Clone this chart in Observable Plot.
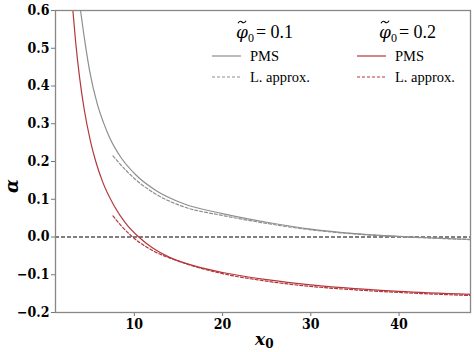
<!DOCTYPE html>
<html><head><meta charset="utf-8">
<script src="https://cdn.jsdelivr.net/npm/d3@7"></script>
<script src="https://cdn.jsdelivr.net/npm/@observablehq/plot@0.6"></script>
<style>body{margin:0;background:#fff}
svg text.tk{font-family:'DejaVu Serif Condensed','DejaVu Serif',serif;font-stretch:condensed;font-weight:bold}
</style>
</head><body><div id="chart"></div>
<script>
// Series (x0, alpha)
const grayPmsX = [3.9, 4.4, 4.96, 5.8, 6.5, 7.2, 8.5, 10.15, 12.4, 15.6, 20, 25, 30, 35, 41.4, 48.1];
const grayPmsY = [0.60, 0.516, 0.436, 0.352, 0.303, 0.263, 0.21, 0.165, 0.124, 0.088, 0.062, 0.039, 0.021, 0.009, 0.0, -0.006];
const grayLX = [7.57, 8.5, 10.15, 12.4, 15.6, 20, 25, 30, 35, 40, 48.1];
const grayLY = [0.215, 0.19, 0.152, 0.114, 0.080, 0.057, 0.036, 0.019, 0.008, 0.001, -0.007];
const redPmsX = [3.03, 3.33, 3.79, 4.28, 5.04, 5.6, 6.37, 7.7, 9.0, 10.5, 12, 14, 17, 20, 25, 30, 35, 40, 48.1];
const redPmsY = [0.60, 0.52, 0.423, 0.343, 0.252, 0.202, 0.148, 0.083, 0.037, 0.0, -0.028, -0.054, -0.078, -0.094, -0.113, -0.127, -0.137, -0.144, -0.152];
const redLX = [7.57, 8.5, 9.8, 12, 15, 20, 25, 30, 35, 40, 48.1];
const redLY = [0.056, 0.03, 0.0, -0.035, -0.064, -0.097, -0.117, -0.131, -0.140, -0.147, -0.155];

const xTicks = [10, 20, 30, 40];
const yTicks = [-0.2, -0.1, 0.0, 0.1, 0.2, 0.3, 0.4, 0.5, 0.6];
const legendTitles = ["0.1", "0.2"];
const legendLabels = ["PMS", "L. approx."];

const SERIF = "'Liberation Serif', 'Times New Roman', serif";
const DSERIF = "'DejaVu Serif', serif";
const GRAY = "#8f8f8f", RED = "#b3373b";
const toRows = (xs, ys) => xs.map((x, i) => ({x, y: ys[i]}));

const chart = Plot.plot({
  width: 474, height: 352,
  marginLeft: 55, marginRight: 4, marginTop: 10, marginBottom: 40,
  x: {domain: [1.06, 48.1]},
  y: {domain: [-0.2, 0.6]},
  style: `font-family: ${SERIF}; background: #fff; overflow: visible;`,
  marks: [
    Plot.ruleY([0], {stroke: "#000", strokeDasharray: "4,2", strokeWidth: 1.2}),
    Plot.line(toRows(grayPmsX, grayPmsY), {x: "x", y: "y", stroke: GRAY, strokeWidth: 1.2, curve: "monotone-x"}),
    Plot.line(toRows(grayLX, grayLY), {x: "x", y: "y", stroke: GRAY, strokeWidth: 1.2, strokeDasharray: "3,2", curve: "monotone-x"}),
    Plot.line(toRows(redPmsX, redPmsY), {x: "x", y: "y", stroke: RED, strokeWidth: 1.2, curve: "monotone-x"}),
    Plot.line(toRows(redLX, redLY), {x: "x", y: "y", stroke: RED, strokeWidth: 1.2, strokeDasharray: "3,2", curve: "monotone-x"}),
    Plot.axisX({ticks: xTicks, tickSize: 4, stroke: "#777", fill: "#000", fontSize: 14, tickPadding: 3, label: null, tickFormat: d => String(d)}),
    Plot.axisY({ticks: yTicks, tickSize: 4, stroke: "#777", fill: "#000", fontSize: 14, tickPadding: 2, label: null, tickFormat: d => d.toFixed(1).replace("-", "\u2212")}),
    Plot.frame({stroke: "#888", strokeWidth: 1.3})
  ]
});
document.getElementById("chart").appendChild(chart);

const svg = d3.select(chart);
svg.selectAll("g[aria-label$='tick label'] text").classed("tk", true);

// axis labels
svg.append("text").attr("transform", "translate(18,186) rotate(-90)")
  .attr("text-anchor", "middle").attr("font-family", DSERIF)
  .attr("font-size", 18).attr("font-style", "italic").attr("font-weight", "bold").text("α");
const xl = svg.append("text").attr("x", 255).attr("y", 345).attr("text-anchor", "start")
  .attr("font-family", DSERIF).attr("font-size", 17).attr("font-weight", "bold");
xl.append("tspan").attr("font-style", "italic").text("x");
xl.append("tspan").attr("font-size", 12).attr("dy", 3).text("0");

// legend
const cols = [{x: 212, color: GRAY, tx: 236}, {x: 357, color: RED, tx: 379}];
cols.forEach((c, i) => {
  const t = svg.append("text").attr("x", c.tx).attr("y", 38).attr("text-anchor", "start")
    .attr("font-family", SERIF).attr("font-size", 18);
  t.append("tspan").attr("font-style", "italic").attr("font-family", DSERIF).attr("font-size", 17).text("\u03C6");
  t.append("tspan").attr("font-size", 12).attr("dy", 4).text("0");
  t.append("tspan").attr("dy", -4).attr("dx", 2).text("= " + legendTitles[i]);
  // tilde accent drawn as a small path above the phi
  const ax = c.tx + 2, ay = 22;
  svg.append("path")
    .attr("d", `M${ax},${ay + 1.2} C${ax + 1.5},${ay - 1.5} ${ax + 3},${ay - 1} ${ax + 4},${ay} S${ax + 6.5},${ay + 1.5} ${ax + 8},${ay - 1.2}`)
    .attr("fill", "none").attr("stroke", "#000").attr("stroke-width", 1.1);
  legendLabels.forEach((lab, j) => {
    const y = 56 + j * 21;
    svg.append("line").attr("x1", c.x).attr("x2", c.x + 29).attr("y1", y).attr("y2", y)
      .attr("stroke", c.color).attr("stroke-width", 1.2).attr("stroke-dasharray", j ? "3,2" : null);
    svg.append("text").attr("x", c.x + 38).attr("y", y + 5).attr("text-anchor", "start")
      .attr("font-family", SERIF).attr("font-size", 14.5).text(lab);
  });
});
</script>
</body></html>
